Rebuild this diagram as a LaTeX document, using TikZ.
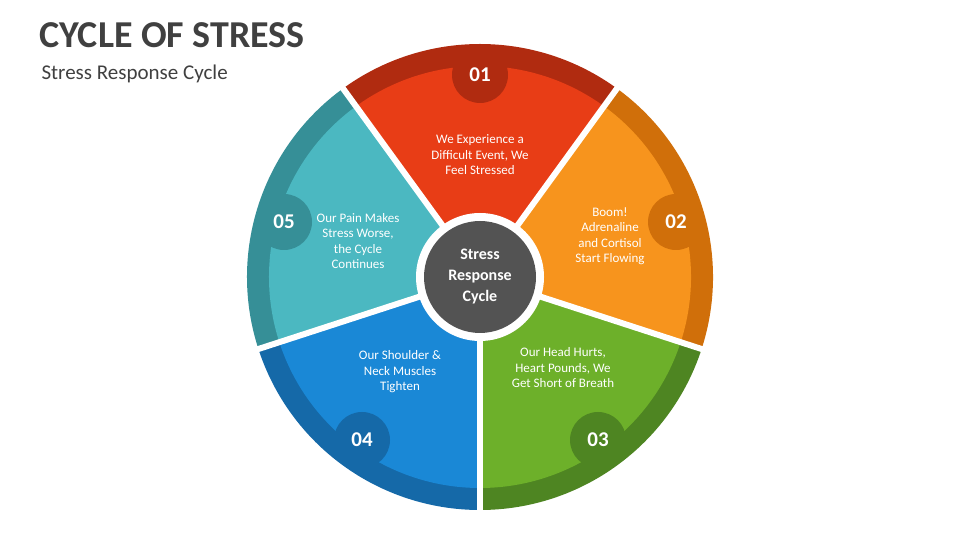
\documentclass[tikz,border=0pt]{standalone}
\usepackage{fontspec}
\setmainfont{Carlito}
\definecolor{c1}{HTML}{E83D16}\definecolor{b1}{HTML}{B02B10}
\definecolor{c2}{HTML}{F7941D}\definecolor{b2}{HTML}{D06F0A}
\definecolor{c3}{HTML}{6DB02A}\definecolor{b3}{HTML}{4E8522}
\definecolor{c4}{HTML}{1A88D6}\definecolor{b4}{HTML}{1569A8}
\definecolor{c5}{HTML}{4BB8C1}\definecolor{b5}{HTML}{368F97}
\definecolor{ttl}{HTML}{404040}
\tikzset{segtext/.style={text=white,font=\fontsize{13}{15.5}\selectfont,align=center},
numtext/.style={text=white,font=\fontsize{21}{24}\bfseries\selectfont}}
\begin{document}
\begin{tikzpicture}[x=1pt,y=1pt]
\useasboundingbox (0,0) rectangle (960,540);
\coordinate (c) at (480,263);
\foreach \a/\m/\b in {90/c1/b1,18/c2/b2,-54/c3/b3,-126/c4/b4,162/c5/b5}{
  \fill[\b] (c) -- ++(\a-36:233) arc[start angle=\a-36,end angle=\a+36,radius=233] -- cycle;
  \fill[\m] (c) -- ++(\a-36:211) arc[start angle=\a-36,end angle=\a+36,radius=211] -- cycle;
}
\foreach \a in {126,54,-18,-90,-162}{\draw[white,line width=6pt] (c) -- ++(\a:245);}
\foreach \n/\x/\y/\b in {01/480/465/b1,02/676/318/b2,03/598/100/b3,04/362/100/b4,05/284/318/b5}{
  \node[circle,fill=\b,minimum size=56pt,inner sep=0pt,numtext] (n\n) at (\x,\y) {\n};
}
\fill[white] (c) circle[radius=64];
\node[circle,fill=ttl!90!white,minimum size=112pt,inner sep=0pt,text=white,align=center,font=\fontsize{16}{21}\bfseries\selectfont] (ctr) at (c) {Stress\\Response\\Cycle};
\node[segtext] (t1) at (480,385) {We Experience a\\Difficult Event, We\\Feel Stressed};
\node[segtext] (t2) at (610,304) {Boom!\\Adrenaline\\and Cortisol\\Start Flowing};
\node[segtext] (t3) at (563,172) {Our Head Hurts,\\Heart Pounds, We\\Get Short of Breath};
\node[segtext] (t4) at (400,168) {Our Shoulder \&\\Neck Muscles\\Tighten};
\node[segtext] (t5) at (358,299) {Our Pain Makes\\Stress Worse,\\the Cycle\\Continues};
\node[anchor=west,text=ttl,font=\fontsize{38}{40}\bfseries\selectfont] (title) at (36,505) {CYCLE OF STRESS};
\node[anchor=west,text=ttl,font=\fontsize{21}{24}\selectfont] (sub) at (38,466) {Stress Response Cycle};
\end{tikzpicture}
\end{document}
